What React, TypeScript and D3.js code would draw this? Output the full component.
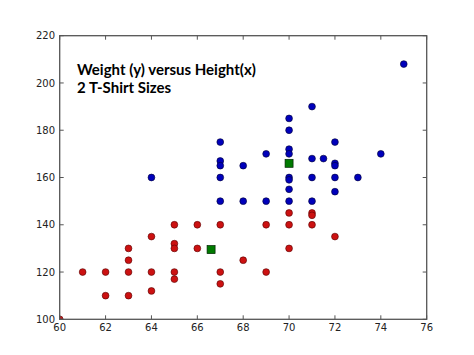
import React from "react";
import * as d3 from "d3";

const xTicks = [60, 62, 64, 66, 68, 70, 72, 74, 76];
const yTicks = [100, 120, 140, 160, 180, 200, 220];

const largeHeight = [64, 67, 67, 67, 67, 67, 68, 68, 69, 69, 70, 70, 70, 70, 70, 70, 70, 70, 71, 71, 71, 71, 71.5, 72, 72, 72, 72, 72, 73, 74, 75];
const largeWeight = [160, 175, 167, 165, 160, 150, 165, 150, 170, 150, 185, 180, 172, 170, 160, 159, 155, 150, 190, 168, 160, 150, 168, 175, 166, 165, 160, 154, 160, 170, 208];

const smallHeight = [60, 61, 62, 62, 63, 63, 63, 63, 64, 64, 64, 65, 65, 65, 65, 65, 66, 66, 67, 67, 67, 68, 69, 69, 70, 70, 70, 71, 71, 71, 72];
const smallWeight = [100, 120, 120, 110, 130, 125, 120, 110, 135, 120, 112, 140, 132, 130, 120, 117, 140, 130, 140, 120, 115, 125, 140, 120, 145, 140, 130, 145, 144, 140, 135];

const centerHeight = [66.6, 70];
const centerWeight = [129.5, 166];

const titleLines = ["Weight (y) versus Height(x)", "2 T-Shirt Sizes"];

export default function App() {
  const W = 474, H = 355;
  const left = 59.7, right = 426.7, top = 35.7, bottom = 319.3;
  const x = d3.scaleLinear().domain([60, 76]).range([left, right]);
  const y = d3.scaleLinear().domain([100, 220]).range([bottom, top]);
  const tl = 4;
  const frame = "#555";
  return (
    <svg width={W} height={H} style={{ position: "absolute", left: 0, top: 0, background: "#fff" }}>
      <defs>
        <clipPath id="plot">
          <rect x={left} y={top} width={right - left} height={bottom - top} />
        </clipPath>
      </defs>
      <g clipPath="url(#plot)">
        {smallHeight.map((h, i) => (
          <circle key={"s" + i} cx={x(h)} cy={y(smallWeight[i])} r={3.4} fill="#cc1111" stroke="#550000" strokeWidth={0.6} />
        ))}
        {largeHeight.map((h, i) => (
          <circle key={"l" + i} cx={x(h)} cy={y(largeWeight[i])} r={3.4} fill="#0000bb" stroke="#000033" strokeWidth={0.6} />
        ))}
        {centerHeight.map((h, i) => (
          <rect key={"c" + i} x={x(h) - 4} y={y(centerWeight[i]) - 4} width={8} height={8} fill="#007a00" stroke="#002200" strokeWidth={0.7} />
        ))}
      </g>
      <rect x={left} y={top} width={right - left} height={bottom - top} fill="none" stroke={frame} strokeWidth={1.3} />
      {xTicks.map((t) => (
        <g key={"xt" + t}>
          <line x1={x(t)} x2={x(t)} y1={bottom} y2={bottom - tl} stroke={frame} strokeWidth={1} />
          <line x1={x(t)} x2={x(t)} y1={top} y2={top + tl} stroke={frame} strokeWidth={1} />
          <text x={x(t)} y={331} textAnchor="middle" fontFamily="DejaVu Sans" fontSize={10} fill="#222">{t}</text>
        </g>
      ))}
      {yTicks.map((t) => (
        <g key={"yt" + t}>
          <line x1={left} x2={left + tl} y1={y(t)} y2={y(t)} stroke={frame} strokeWidth={1} />
          <line x1={right} x2={right - tl} y1={y(t)} y2={y(t)} stroke={frame} strokeWidth={1} />
          <text x={55} y={y(t) + 3.6} textAnchor="end" fontFamily="DejaVu Sans" fontSize={10} fill="#222">{t}</text>
        </g>
      ))}
      {titleLines.map((s, i) => (
        <text key={"t" + i} x={77} y={74.5 + i * 18.5} fontFamily="Lato" fontWeight="bold" fontSize={15} fill="#000">{s}</text>
      ))}
    </svg>
  );
}
